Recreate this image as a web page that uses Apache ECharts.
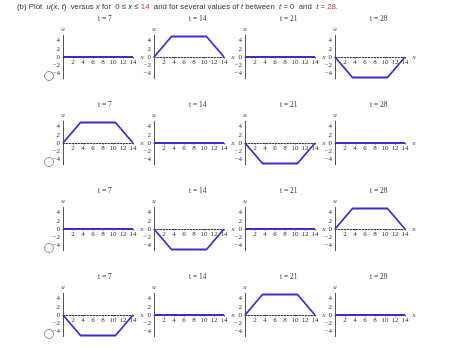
<!DOCTYPE html>
<html>
<head>
<meta charset="utf-8">
<script src="https://cdn.jsdelivr.net/npm/echarts@6/dist/echarts.min.js"></script>
<style>html,body{margin:0;padding:0;background:#fff;}#c{width:474px;height:351px;}</style>
</head>
<body>
<div id="c"></div>
<script>
// ---- data ----
const xPts = [0, 3.5, 10.5, 14];
const uUp = [0, 5, 5, 0];
const uDown = [0, -5, -5, 0];
const uFlat = [0, 0, 0, 0];
const timeLabels = ['t = 7', 't = 14', 't = 21', 't = 28'];
const xTicks = [2, 4, 6, 8, 10, 12, 14];
const yTicks = [-4, -2, 0, 2, 4];
const row1 = [uFlat, uUp, uFlat, uDown];
const row2 = [uUp, uFlat, uDown, uFlat];
const row3 = [uFlat, uDown, uFlat, uUp];
const row4 = [uDown, uFlat, uUp, uFlat];
const rows = [row1, row2, row3, row4];

// ---- layout ----
const colX = [63, 154, 245, 335];
const rowZero = [57, 143, 229, 315];
const plotW = 70;
const yMax = 5.3;
const pxPerU = 4.1;
const serif = 'Liberation Serif';
const lineColor = '#3b2fc9';

const grids = [], xAxes = [], yAxes = [], series = [], graphics = [];
rows.forEach((row, r) => {
  row.forEach((vals, c) => {
    const i = grids.length;
    grids.push({left: colX[c], top: rowZero[r] - yMax * pxPerU, width: plotW, height: 2 * yMax * pxPerU, containLabel: false});
    xAxes.push({
      type: 'value', gridIndex: i, min: 0, max: 14, interval: 2,
      position: 'bottom', offset: -yMax * pxPerU,
      name: 'x', nameLocation: 'end', nameGap: 6,
      nameTextStyle: {fontFamily: serif, fontSize: 7, fontStyle: 'italic', color: '#333'},
      axisLine: {onZero: false, lineStyle: {color: '#333', width: 1, type: [1.5, 1.5]}},
      axisTick: {show: true, length: 1.5, lineStyle: {color: '#555'}},
      axisLabel: {fontFamily: serif, fontSize: 7, color: '#333', margin: 2,
        formatter: v => xTicks.indexOf(v) >= 0 ? String(v) : ''},
      splitLine: {show: false}
    });
    yAxes.push({
      type: 'value', gridIndex: i, min: -yMax, max: yMax,
      name: 'u', nameLocation: 'end', nameGap: 3,
      nameTextStyle: {fontFamily: serif, fontSize: 7, fontStyle: 'italic', color: '#333', align: 'center'},
      axisLine: {show: true, onZero: false, lineStyle: {color: '#555', width: 1}},
      axisTick: {show: false},
      axisLabel: {fontFamily: serif, fontSize: 7, color: '#333', margin: 3,
        formatter: v => yTicks.indexOf(v) >= 0 ? String(v).replace('-', '\u2212') : ''},
      splitLine: {show: false}
    });
    series.push({
      type: 'line', xAxisIndex: i, yAxisIndex: i, symbol: 'none', silent: true,
      data: xPts.map((x, k) => [x, vals[k]]),
      lineStyle: {color: lineColor, width: 1.8}, z: 5
    });
    graphics.push({type: 'text', left: colX[c] + plotW / 2, top: rowZero[r] - 42,
      style: {text: timeLabels[c], font: '7.5px ' + serif, fill: '#333', textAlign: 'center'}});
  });
  graphics.push({type: 'circle', shape: {cx: 49, cy: rowZero[r] + 19, r: 4.5},
    style: {fill: '#fff', stroke: '#8a8a8a', lineWidth: 1}});
});

const hf = 'Liberation Sans';
const hs = 7.8;
graphics.push({
  type: 'text', left: 17, top: 3,
  style: {
    text: '(b) Plot  {i|u}({i|x}, {i|t})  versus {i|x} for  0 \u2264 {i|x} \u2264 {r|14}  and for several values of {i|t} between  {i|t} = 0  and  {i|t} = {r|28}.',
    fontFamily: hf, fontSize: hs, fill: '#333',
    rich: {
      i: {fontFamily: hf, fontSize: hs, fontStyle: 'italic', fill: '#333'},
      r: {fontFamily: hf, fontSize: hs, fill: '#d9342b'}
    }
  }
});

const chart = echarts.init(document.getElementById('c'), null, {renderer: 'canvas'});
chart.setOption({
  animation: false,
  grid: grids, xAxis: xAxes, yAxis: yAxes, series: series, graphic: graphics
});
</script>
</body>
</html>
